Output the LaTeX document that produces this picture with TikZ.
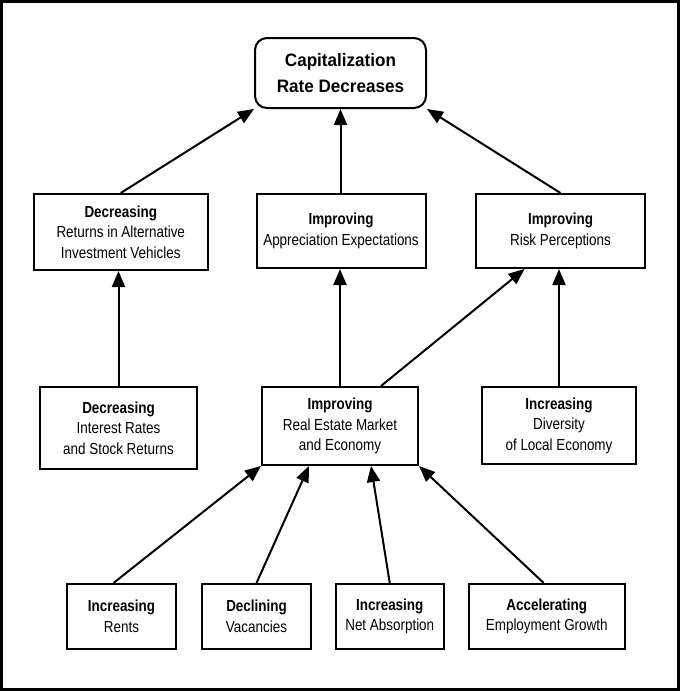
\documentclass[tikz,border=0pt]{standalone}
\usepackage{fontspec}
\setmainfont{Liberation Sans}[FakeStretch=0.84]
\newfontfamily\titlefont{Liberation Sans}[FakeStretch=0.95]
\usetikzlibrary{arrows.meta}
\begin{document}
\begin{tikzpicture}[x=1pt,y=-1pt,
  box/.style={draw, line width=2pt, inner sep=0pt, align=center, font=\fontsize{16}{20.5}\selectfont},
  arr/.style={line width=2pt, -{Triangle[length=16pt,width=13pt]}}]
\useasboundingbox (0,0) rectangle (680,691);
\draw[line width=3pt] (1.5,1.5) rectangle (678.5,689.5);

\node[box, rounded corners=12pt, minimum width=171pt, minimum height=70pt,
  font=\titlefont\bfseries\fontsize{18}{26.7}\selectfont] (top) at (340.5,73) {Capitalization\\Rate Decreases};

\node[box, minimum width=174.5pt, minimum height=76pt] (A) at (120.75,232) {\textbf{Decreasing}\\Returns in Alternative\\Investment Vehicles};
\node[box, minimum width=169pt, minimum height=74pt] (B) at (341,231) {\textbf{Improving}\\Appreciation Expectations};
\node[box, minimum width=169pt, minimum height=74pt] (C) at (560.5,231) {\textbf{Improving}\\Risk Perceptions};

\node[box, minimum width=157pt, minimum height=82pt] (D) at (118.5,428) {\textbf{Decreasing}\\Interest Rates\\and Stock Returns};
\node[box, minimum width=156pt, minimum height=78pt] (E) at (340,426) {\textbf{Improving}\\Real Estate Market\\and Economy};
\node[box, minimum width=153.6pt, minimum height=77pt] (F) at (559,425.5) {\textbf{Increasing}\\Diversity\\of Local Economy};

\node[box, minimum width=109pt, minimum height=65pt] (R) at (121.5,616.5) {\textbf{Increasing}\\Rents};
\node[box, minimum width=109pt, minimum height=65pt] (V) at (256.5,616.5) {\textbf{Declining}\\Vacancies};
\node[box, minimum width=107.5pt, minimum height=65pt] (N) at (389.75,616.5) {\textbf{Increasing}\\Net Absorption};
\node[box, minimum width=156.5pt, minimum height=65pt] (M) at (546.75,616.5) {\textbf{Accelerating}\\Employment Growth};

\draw[arr] (A.north) -- (top.south west);
\draw[arr] (B.north -| top.south) -- (top.south);
\draw[arr] (C.north) -- (top.south east);

\draw[arr] (D.north) -- (D.north |- A.south);
\draw[arr] (E.north) -- (E.north |- B.south);
\draw[arr] ([xshift=41pt]E.north) -- ([xshift=-36pt]C.south);
\draw[arr] (F.north) -- (F.north |- C.south);

\draw[arr] ([xshift=-8pt]R.north) -- (E.south west);
\draw[arr] (V.north) -- ([xshift=-31pt]E.south);
\draw[arr] (N.north) -- ([xshift=31pt]E.south);
\draw[arr] ([xshift=-3pt]M.north) -- (E.south east);
\end{tikzpicture}
\end{document}
